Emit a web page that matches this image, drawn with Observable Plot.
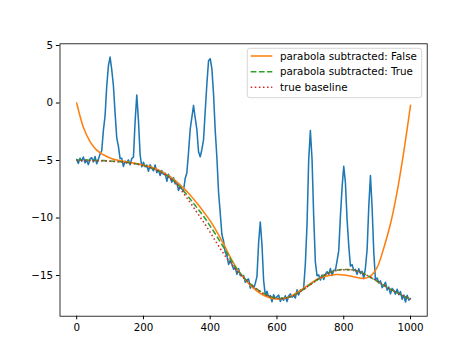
<!DOCTYPE html>
<html>
<head>
<meta charset="utf-8">
<script src="https://cdn.jsdelivr.net/npm/d3@7"></script>
<script src="https://cdn.jsdelivr.net/npm/@observablehq/plot@0.6"></script>
<style>
  body { margin: 0; background: #fff; }
  #wrap { position: relative; width: 474px; height: 355px; font-family: "DejaVu Sans", sans-serif; }
  #legend { position: absolute; left: 0; top: 0; pointer-events: none; }
</style>
</head>
<body>
<div id="wrap"><div id="chart"></div><svg id="legend" width="474" height="355"></svg></div>
<script>
// measured signal, sampled every 5 units from 0 to 1000
const blueStep = 5;
const blueY = [
  -4.90,-5.25,-4.80,-5.05,-4.70,-5.20,-4.95,-5.36,-4.86,-4.76,
  -5.12,-4.66,-5.28,-4.90,-4.43,-4.15,-2.37,-1.13,1.48,3.23,
  4.00,2.91,1.50,-0.87,-3.03,-3.77,-4.83,-4.81,-5.51,-5.06,
  -5.19,-4.95,-5.37,-4.83,-4.71,-1.61,0.70,-1.51,-4.48,-5.55,
  -5.15,-5.54,-5.39,-5.93,-5.37,-5.68,-5.89,-5.39,-6.05,-5.83,
  -6.30,-5.88,-6.20,-6.10,-6.80,-6.20,-6.50,-6.88,-6.50,-7.03,
  -6.95,-7.60,-7.20,-7.48,-7.63,-6.56,-6.06,-4.31,-2.28,-1.25,
  -0.22,-1.28,-2.31,-4.24,-4.67,-4.04,-3.20,-0.70,1.68,3.67,
  3.85,2.99,0.76,-2.39,-4.76,-7.76,-9.58,-11.44,-12.01,-12.99,
  -13.25,-14.04,-13.65,-14.02,-14.45,-14.27,-14.90,-14.40,-15.00,-15.05,
  -15.00,-15.59,-15.37,-15.31,-16.10,-15.81,-16.12,-15.69,-15.09,-12.15,
  -10.35,-12.30,-15.44,-16.71,-16.37,-16.89,-16.75,-17.29,-16.67,-17.01,
  -16.85,-16.70,-17.25,-16.95,-17.15,-16.76,-17.27,-16.79,-16.60,-16.89,
  -16.72,-16.96,-16.25,-16.70,-16.25,-16.25,-16.07,-13.99,-10.59,-4.97,
  -2.40,-4.87,-9.84,-13.84,-15.02,-14.95,-15.40,-14.95,-15.35,-14.89,
  -14.67,-14.91,-14.40,-15.00,-14.55,-14.53,-13.73,-12.84,-9.86,-7.34,
  -5.50,-6.93,-10.14,-12.40,-14.18,-14.05,-14.58,-14.47,-14.90,-14.41,
  -14.82,-14.64,-15.27,-14.33,-12.74,-9.01,-6.30,-9.13,-13.01,-15.37,
  -15.22,-15.64,-15.47,-16.06,-15.85,-15.59,-16.27,-16.01,-16.60,-16.12,
  -16.30,-16.62,-16.20,-16.67,-16.40,-17.07,-16.70,-17.31,-16.72,-17.14,
  -17.00
];

// fitted baselines, sampled every 20 units from 0 to 1000
const curveStep = 20;
const falseY = [
  0.0,-2.1,-3.35,-4.1,-4.5,-4.78,-4.95,-5.07,-5.17,-5.27,
  -5.4,-5.55,-5.75,-6.05,-6.4,-6.85,-7.4,-8.0,-8.7,-9.45,
  -10.25,-11.2,-12.25,-13.4,-14.4,-15.2,-15.85,-16.35,-16.72,-16.95,
  -17.05,-17.0,-16.82,-16.5,-16.1,-15.7,-15.35,-15.1,-14.97,-14.92,
  -14.95,-15.05,-15.18,-15.25,-15.05,-14.3,-12.6,-10.5,-7.7,-4.2,
  -0.2
];
const trueY = [
  -4.95,-4.96,-4.97,-4.99,-5.01,-5.04,-5.08,-5.14,-5.21,-5.31,
  -5.43,-5.6,-5.83,-6.12,-6.5,-7.0,-7.65,-8.35,-9.1,-9.85,
  -10.7,-11.6,-12.55,-13.55,-14.45,-15.15,-15.72,-16.18,-16.55,-16.82,
  -16.97,-16.98,-16.85,-16.58,-16.2,-15.78,-15.37,-15.0,-14.73,-14.55,
  -14.48,-14.5,-14.6,-14.85,-15.15,-15.5,-15.85,-16.2,-16.5,-16.8,
  -17.05
];
const baselineY = [
  -5.0,-5.0,-5.01,-5.02,-5.04,-5.07,-5.1,-5.15,-5.22,-5.32,
  -5.45,-5.62,-5.85,-6.15,-6.55,-7.05,-7.85,-8.65,-9.5,-10.35,
  -11.25,-12.2,-13.1,-13.9,-14.6,-15.2,-15.75,-16.2,-16.6,-16.85,
  -17.0,-17.0,-16.85,-16.6,-16.2,-15.8,-15.4,-15.0,-14.75,-14.55,
  -14.5,-14.5,-14.6,-14.85,-15.15,-15.5,-15.85,-16.2,-16.5,-16.8,
  -17.05
];

const xTicks = [0, 200, 400, 600, 800, 1000];
const yTicks = [-15, -10, -5, 0, 5];
const legendLabels = ["parabola subtracted: False", "parabola subtracted: True", "true baseline"];
const colors = {blue: "#1f77b4", orange: "#ff7f0e", green: "#2ca02c", red: "#d62728"};

const blue = blueY.map((y, i) => ({x: i * blueStep, y}));
const toPts = ys => ys.map((y, i) => ({x: i * curveStep, y}));
const fmt = d => d < 0 ? "\u2212" + Math.abs(d) : String(d);

const lw = 1.54;
const plot = Plot.plot({
  width: 474, height: 355,
  marginLeft: 59.5, marginRight: 47.3, marginTop: 43.3, marginBottom: 39.3,
  style: {fontFamily: "DejaVu Sans", fontSize: "10.3px", color: "black", background: "white"},
  x: {domain: [-50, 1050], label: null},
  y: {domain: [-18.54, 5.15], label: null},
  marks: [
    Plot.line(blue, {x: "x", y: "y", stroke: colors.blue, strokeWidth: lw}),
    Plot.line(toPts(falseY), {x: "x", y: "y", stroke: colors.orange, strokeWidth: lw, curve: "catmull-rom"}),
    Plot.line(toPts(trueY), {x: "x", y: "y", stroke: colors.green, strokeWidth: lw, curve: "catmull-rom", strokeDasharray: "5.7,2.5", strokeLinecap: "butt"}),
    Plot.line(toPts(baselineY), {x: "x", y: "y", stroke: colors.red, strokeWidth: lw, curve: "catmull-rom", strokeDasharray: "1.54,2.54", strokeLinecap: "butt"}),
    Plot.frame({stroke: "black", strokeWidth: 0.8}),
    Plot.axisX({ticks: xTicks, tickSize: 3.6, tickPadding: 3.4, tickFormat: fmt, label: null}),
    Plot.axisY({ticks: yTicks, tickSize: 3.6, tickPadding: 3.4, tickFormat: fmt, label: null})
  ]
});
document.getElementById("chart").appendChild(plot);

// legend (upper right, inside axes)
const lg = d3.select("#legend");
lg.append("rect").attr("x", 247.3).attr("y", 48.3).attr("width", 174.4).attr("height", 49.4)
  .attr("rx", 2.5).attr("fill", "white").attr("fill-opacity", 0.8).attr("stroke", "#cccccc").attr("stroke-width", 0.8);
const legendStyles = [
  {c: colors.orange, dash: null},
  {c: colors.green, dash: "5.7,2.5"},
  {c: colors.red, dash: "1.54,2.54"}
];
legendLabels.forEach((t, i) => {
  const y = 56 + i * 15.65;
  const l = lg.append("line").attr("x1", 250.7).attr("x2", 272.3).attr("y1", y).attr("y2", y)
    .attr("stroke", legendStyles[i].c).attr("stroke-width", lw);
  if (legendStyles[i].dash) l.attr("stroke-dasharray", legendStyles[i].dash);
  lg.append("text").attr("x", 280).attr("y", y).attr("dy", "0.35em")
    .attr("font-family", "DejaVu Sans").attr("font-size", "10.3px").attr("fill", "black").text(t);
});
</script>
</body>
</html>
